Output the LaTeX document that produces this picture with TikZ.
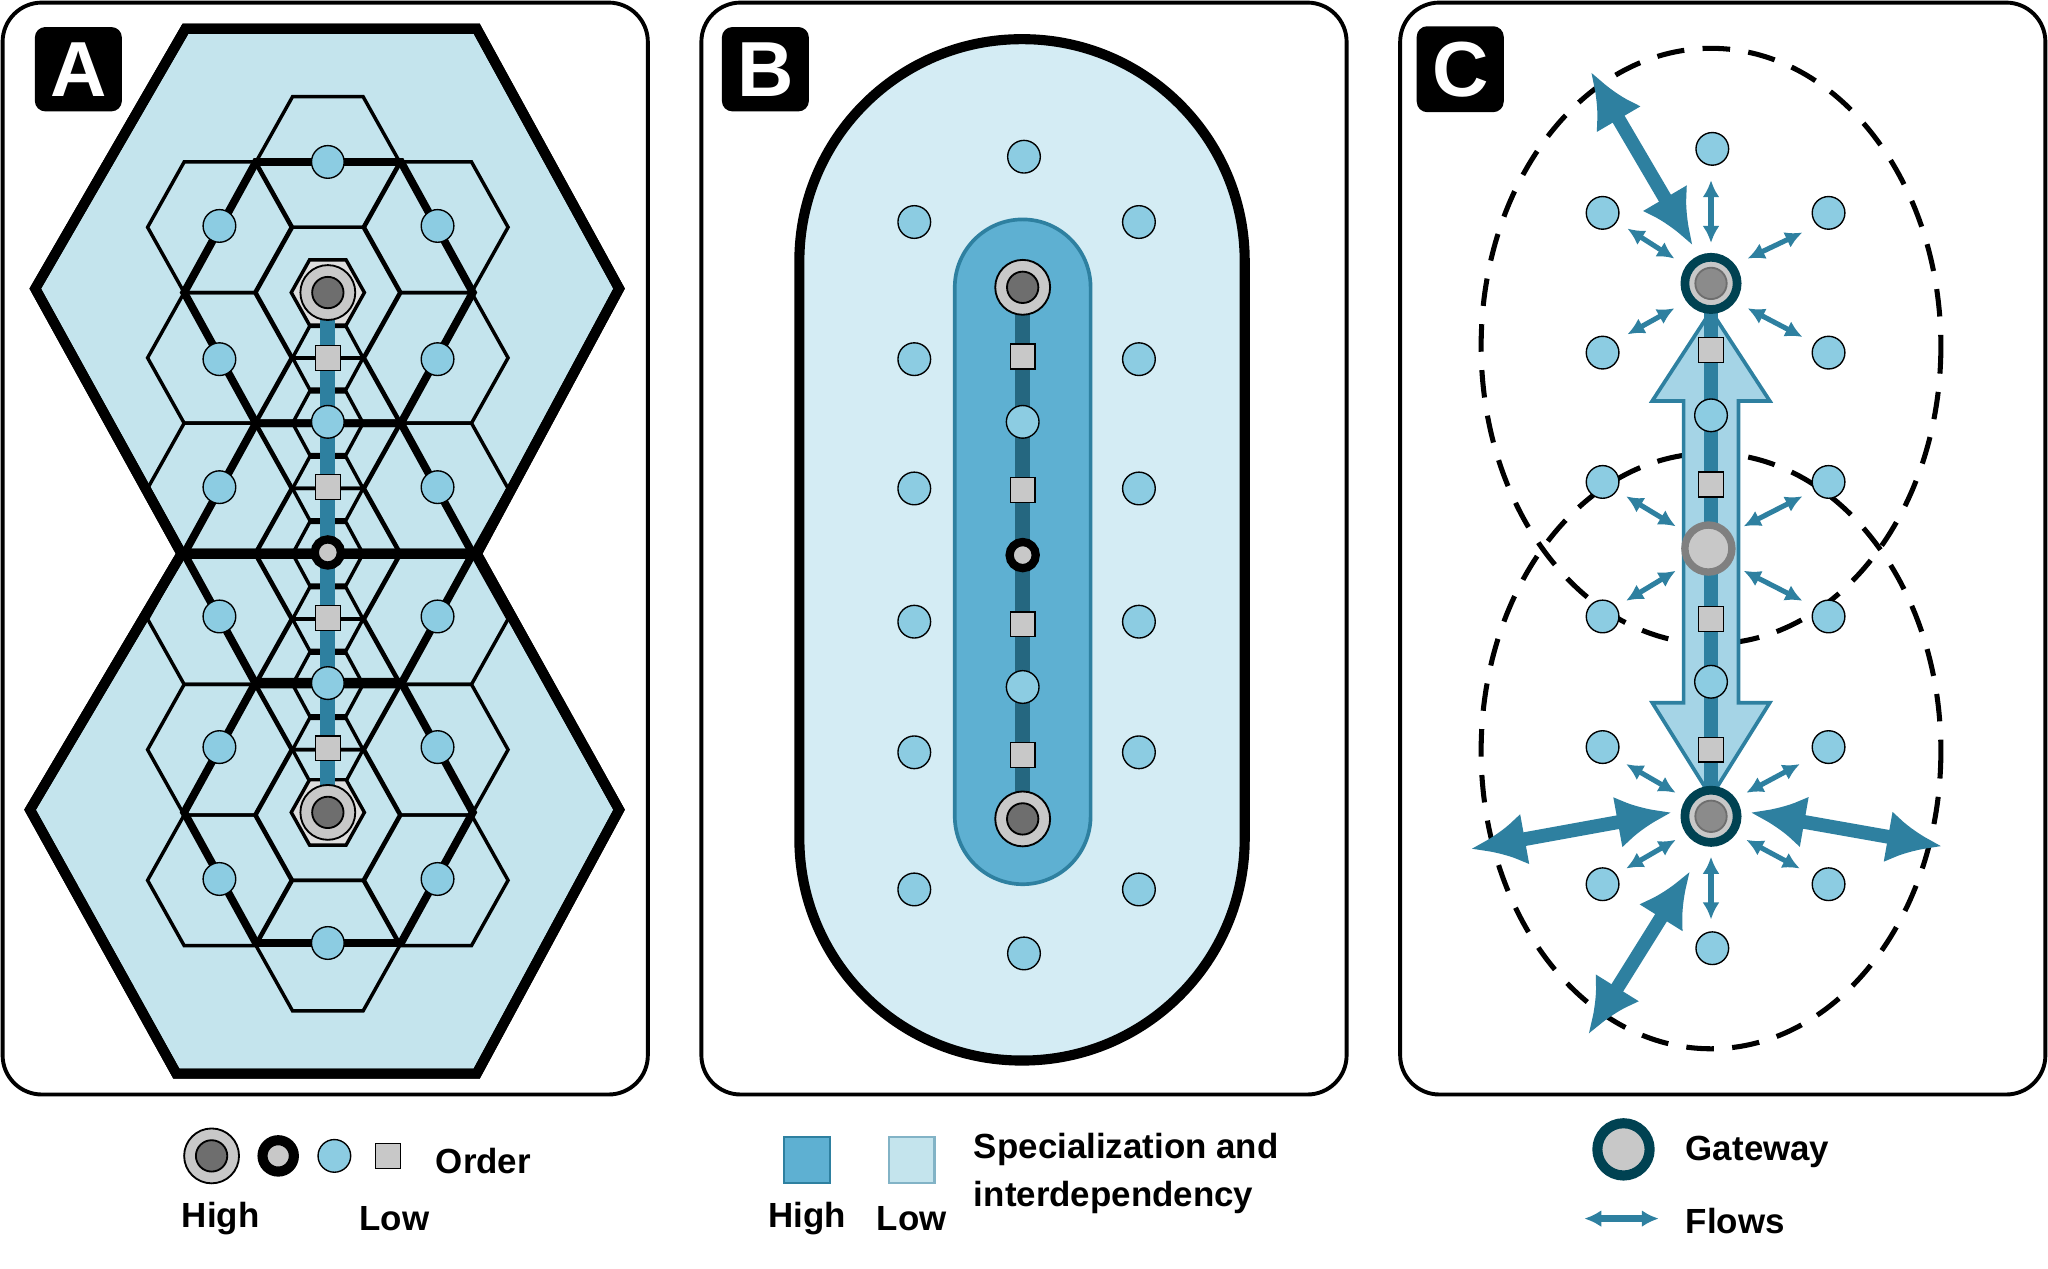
\documentclass[tikz,border=0pt]{standalone}
\usepackage{fontspec}
\setmainfont{Liberation Sans}
\usetikzlibrary{arrows.meta}
\definecolor{lb}{RGB}{196,228,237}
\definecolor{lb2}{RGB}{212,236,244}
\definecolor{mb}{RGB}{94,176,210}
\definecolor{dotc}{RGB}{140,204,226}
\definecolor{db}{RGB}{46,128,160}
\definecolor{teal}{RGB}{0,66,82}
\definecolor{gr}{RGB}{200,200,200}
\definecolor{dg}{RGB}{110,110,110}
\definecolor{arrf}{RGB}{165,212,230}
\begin{document}
\begin{tikzpicture}[x=0.01cm,y=-0.01cm,
  frame/.style={draw,line width=0.85pt,rounded corners=0.3cm,fill=white},
  dot/.style={circle,draw,line width=0.3pt,fill=dotc,minimum size=0.25cm,inner sep=0},
  sq/.style={rectangle,draw,line width=0.3pt,fill=gr,minimum size=0.19cm,inner sep=0},
  lab/.style={fill=black,rounded corners=0.08cm,minimum size=0.56cm,text=white,font=\fontsize{17}{17}\selectfont\bfseries},
  txt/.style={font=\fontsize{7.6}{9.5}\selectfont\bfseries,inner sep=0},
  hx/.style={draw,line width=0.75pt},
  flow/.style={db,line width=1.1pt,{Latex[length=0.13cm,width=0.13cm]}-{Latex[length=0.13cm,width=0.13cm]}},
  big/.style={db,line width=3pt,{Latex[length=0.42cm,width=0.4cm]}-{Latex[length=0.42cm,width=0.4cm]}},
  ring/.style={circle,draw=black,line width=1.8pt,fill=gr,minimum size=0.2cm,inner sep=0}]
\useasboundingbox (0,0) rectangle (1568,971);
\newcommand{\hexg}[3]{\draw[#3] (#1+55,#2)--(#1+27,#2+50)--(#1-27,#2+50)--(#1-55,#2)--(#1-27,#2-50)--(#1+27,#2-50)--cycle;}
\newcommand{\hexs}[2]{\draw[hx] (#1+27,#2)--(#1+14,#2+24)--(#1-14,#2+24)--(#1-27,#2)--(#1-14,#2-24)--(#1+14,#2-24)--cycle;}
\newcommand{\gwA}[3]{\node[circle,draw,line width=0.4pt,fill=gr,minimum size=0.42cm,inner sep=0] (#3) at (#1,#2) {};
 \node[circle,draw,line width=0.4pt,fill=dg,minimum size=0.24cm,inner sep=0] at (#1,#2) {};}
% ---------- Panel A
\draw[frame] (2,2) rectangle (496,838);
\node[lab] (la) at (60,53) {A};
\draw[line width=2.2pt,fill=lb,line join=miter] (142,22)--(365,22)--(474,221)--(365,424)--(139,424)--(27,221)--cycle;
\draw[line width=2.2pt,fill=lb,line join=miter] (139,424)--(365,424)--(474,620)--(365,822)--(135,822)--(23,620)--cycle;
\begin{scope}
\clip (142,22)--(365,22)--(474,221)--(365,424)--(474,620)--(365,822)--(135,822)--(23,620)--(139,424)--(27,221)--cycle;
\foreach \y in {124,224,...,724} {\hexg{251}{\y}{hx}}
\foreach \y in {174,274,...,674} {\hexg{168}{\y}{hx}\hexg{334}{\y}{hx}}
\foreach \c in {224,424,622} {\draw[line width=1.7pt] (196,\c-100)--(307,\c-100)--(362,\c)--(307,\c+100)--(196,\c+100)--(141,\c)--cycle;}
\end{scope}
\draw[line width=2.2pt,line join=miter] (142,22)--(365,22)--(474,221)--(365,424)--(474,620)--(365,822)--(135,822)--(23,620)--(139,424)--(27,221)--cycle;
\draw[line width=2.2pt] (139,424)--(365,424);
\foreach \y in {274,324,...,574} {\hexs{251}{\y}}
\foreach \y in {274,374,474,574} {\draw[hx] (224,\y)--(278,\y);}
\foreach \c in {224,622} {\draw[line width=0.75pt,fill=gr!60] (279,\c)--(265,\c+25)--(237,\c+25)--(223,\c)--(237,\c-25)--(265,\c-25)--cycle;}
\draw[db,line width=3.2pt] (251,224)--(251,622);
\gwA{251}{224}{ga1}\gwA{251}{622}{ga2}
\node[ring] (ra) at (251,423) {};
\foreach \y [count=\i] in {274,373,473,573} {\node[sq] (as\i) at (251,\y) {};}
\foreach \y [count=\i] in {124,323,523,722} {\node[dot] (ad\i) at (251,\y) {};}
\foreach \y [count=\i] in {173,275,373,472,572,673} {\node[dot] (adl\i) at (168,\y) {};\node[dot] (adr\i) at (335,\y) {};}
% ---------- Panel B
\draw[frame] (537,2) rectangle (1031,838);
\node[lab] (lb) at (586,53) {B};
\draw[line width=2.2pt,fill=lb2,rounded corners=1.7cm] (612,30) rectangle (953,812);
\draw[db,line width=0.8pt,fill=mb,rounded corners=0.52cm] (731,168) rectangle (835,677);
\draw[db!80!black,line width=3.2pt] (783,220)--(783,627);
\gwA{783}{220}{gb1}\gwA{783}{627}{gb2}
\node[ring] (rb) at (783,425) {};
\foreach \y [count=\i] in {273,375,478,578} {\node[sq] (bs\i) at (783,\y) {};}
\foreach \y [count=\i] in {323,526} {\node[dot] (bd\i) at (783,\y) {};}
\node[dot] at (784,120) {};\node[dot] at (784,730) {};
\foreach \y in {170,275,374,476,576,681} {\node[dot] at (700,\y) {};\node[dot] at (872,\y) {};}
% ---------- Panel C
\draw[frame] (1072,2) rectangle (1566,838);
\node[lab] (lc) at (1118,53) {C};
\draw[dashed,line width=1.1pt,dash pattern=on 6pt off 4pt] (1310,265) ellipse [x radius=176,y radius=228];
\draw[dashed,line width=1.1pt,dash pattern=on 6pt off 4pt] (1310,575) ellipse [x radius=176,y radius=228];
\draw[db,line width=0.8pt,fill=arrf,line join=miter] (1310,238)--(1355,307)--(1331,307)--(1331,538)--(1355,538)--(1310,610)--(1265,538)--(1289,538)--(1289,307)--(1265,307)--cycle;
\draw[db,line width=3.2pt] (1310,217)--(1310,625);
\node[circle,draw=teal,line width=1.9pt,fill=gr,minimum size=0.4cm,inner sep=0] (gc1) at (1310,217) {};
\node[circle,draw=dg,line width=0.4pt,fill=dg!80,minimum size=0.24cm,inner sep=0] at (1310,217) {};
\node[circle,draw=teal,line width=1.9pt,fill=gr,minimum size=0.4cm,inner sep=0] (gc2) at (1310,625) {};
\node[circle,draw=dg,line width=0.4pt,fill=dg!80,minimum size=0.24cm,inner sep=0] at (1310,625) {};
\node[circle,draw=gray,line width=1.6pt,fill=gr,minimum size=0.36cm,inner sep=0] (gm) at (1308,420) {};
\foreach \y [count=\i] in {268,371,474,574} {\node[sq] (cs\i) at (1310,\y) {};}
\foreach \y [count=\i] in {318,522} {\node[dot] (cd\i) at (1310,\y) {};}
\node[dot] (ct) at (1311,114) {};\node[dot] (cb) at (1311,726) {};
\foreach \y [count=\i] in {163,270,369,472,572,677} {\node[dot] (cl\i) at (1227,\y) {};\node[dot] (cr\i) at (1400,\y) {};}
% small flows
\draw[flow] (1310,186)--(1310,138);
\draw[flow] (1282,198)--(1246,175);\draw[flow] (1338,198)--(1380,178);
\draw[flow] (1282,236)--(1246,256);\draw[flow] (1338,236)--(1380,258);
\draw[flow] (1283,403)--(1245,380);\draw[flow] (1335,403)--(1380,380);
\draw[flow] (1283,437)--(1245,460);\draw[flow] (1335,437)--(1380,460);
\draw[flow] (1283,607)--(1245,585);\draw[flow] (1337,607)--(1378,585);
\draw[flow] (1283,643)--(1245,665);\draw[flow] (1337,643)--(1378,665);
\draw[flow] (1310,656)--(1310,704);
% big flows
\draw[big] (1218,55)--(1296,188);
\draw[big] (1126,650)--(1280,622);
\draw[big] (1340,622)--(1487,648);
\draw[big] (1216,792)--(1294,667);
% ---------- Legends
\gwA{162}{885}{lg1}
\node[ring,minimum size=0.24cm,line width=2.2pt] (lr) at (213,885) {};
\node[dot] (ld) at (256,885) {};
\node[sq] (ls) at (297,885) {};
\node[txt,anchor=west] (to) at (333,889) {Order};
\node[txt] (th) at (169,933) {High};
\node[txt] (tl) at (302,933) {Low};
\node[draw,db,line width=0.5pt,fill=mb,minimum size=0.35cm] (lsh) at (618,888) {};
\node[draw,line width=0.5pt,draw=db!60,fill=lb,minimum size=0.35cm] (lsl) at (698,888) {};
\node[txt] (tbh) at (618,933) {High};
\node[txt] (tbl) at (698,933) {Low};
\node[txt,anchor=north west,align=left] (tsp) at (745,867) {Specialization and\\[1pt]interdependency};
\node[circle,draw=teal,line width=2.2pt,fill=gr,minimum size=0.4cm,inner sep=0] (lgw) at (1243,880) {};
\node[txt,anchor=west] (tgw) at (1290,882) {Gateway};
\coordinate (fa) at (1213,933);\coordinate (fb) at (1270,933);
\draw[flow,line width=1.5pt] (fa)--(fb);
\node[txt,anchor=west] (tfl) at (1290,935) {Flows};
\end{tikzpicture}
\end{document}
